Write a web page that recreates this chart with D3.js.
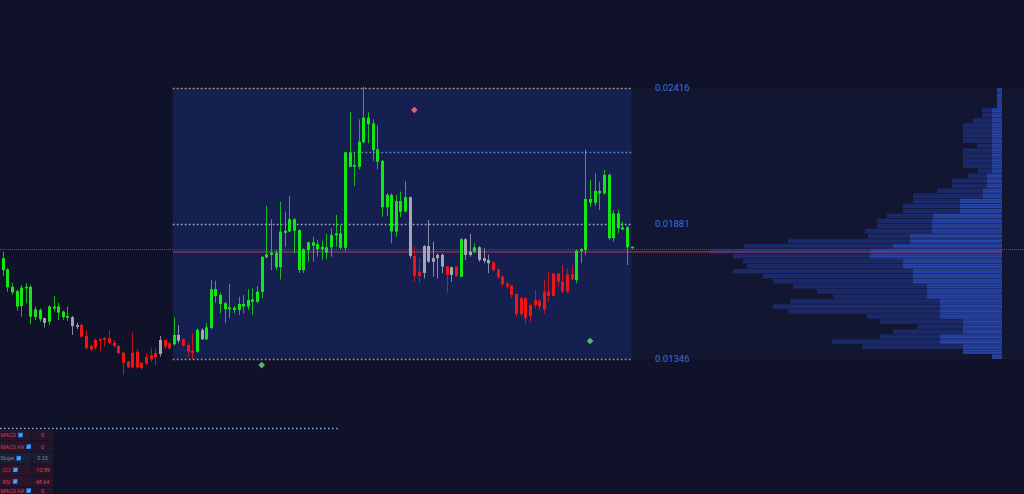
<!DOCTYPE html>
<html><head><meta charset="utf-8">
<script src="https://cdn.jsdelivr.net/npm/d3@7"></script>
<style>html,body{margin:0;padding:0;background:#10122a;overflow:hidden}</style>
</head><body>
<svg id="chart" width="1024" height="494"></svg>
<script>
// ---- candle data (price) ----
const candleOpen = [0.01744,0.01700,0.01631,0.01614,0.01555,0.01625,0.01631,0.01511,0.01540,0.01507,0.01493,0.01545,0.01553,0.01533,0.01509,0.01511,0.01473,0.01480,0.01437,0.01397,0.01421,0.01424,0.01428,0.01428,0.01410,0.01397,0.01371,0.01335,0.01371,0.01375,0.01331,0.01353,0.01361,0.01369,0.01366,0.01421,0.01408,0.01404,0.01441,0.01424,0.01401,0.01379,0.01375,0.01461,0.01424,0.01469,0.01622,0.01599,0.01566,0.01542,0.01548,0.01540,0.01563,0.01553,0.01572,0.01572,0.01611,0.01747,0.01757,0.01766,0.01708,0.01844,0.01849,0.01898,0.01855,0.01697,0.01776,0.01807,0.01800,0.01779,0.01766,0.01787,0.01834,0.01842,0.01785,0.02162,0.02105,0.02105,0.02202,0.02299,0.02276,0.02174,0.02128,0.01945,0.01994,0.01849,0.01970,0.01928,0.01985,0.01753,0.01691,0.01686,0.01792,0.01730,0.01744,0.01757,0.01711,0.01678,0.01711,0.01671,0.01819,0.01757,0.01770,0.01787,0.01744,0.01737,0.01728,0.01700,0.01671,0.01645,0.01635,0.01603,0.01586,0.01586,0.01559,0.01579,0.01576,0.01612,0.01612,0.01684,0.01684,0.01651,0.01680,0.01680,0.01658,0.01772,0.01776,0.01978,0.01963,0.02010,0.02000,0.02073,0.01823,0.01921,0.01858,0.01866,0.01784];
const candleHigh = [0.01770,0.01704,0.01647,0.01621,0.01638,0.01645,0.01638,0.01553,0.01546,0.01509,0.01559,0.01595,0.01568,0.01537,0.01553,0.01516,0.01489,0.01487,0.01458,0.01405,0.01428,0.01428,0.01434,0.01460,0.01421,0.01401,0.01375,0.01339,0.01450,0.01384,0.01335,0.01369,0.01388,0.01388,0.01437,0.01424,0.01414,0.01509,0.01480,0.01428,0.01408,0.01447,0.01467,0.01467,0.01489,0.01658,0.01655,0.01608,0.01572,0.01642,0.01555,0.01592,0.01599,0.01621,0.01625,0.01634,0.01750,0.01950,0.01898,0.01776,0.01967,0.01928,0.01990,0.01902,0.01858,0.01783,0.01809,0.01829,0.01816,0.01813,0.01840,0.01862,0.01915,0.01875,0.02164,0.02320,0.02162,0.02292,0.02421,0.02320,0.02292,0.02267,0.02132,0.02000,0.02000,0.01994,0.02007,0.02049,0.01987,0.01789,0.01744,0.01796,0.01895,0.01809,0.01763,0.01763,0.01713,0.01711,0.01713,0.01823,0.01823,0.01840,0.01803,0.01792,0.01783,0.01757,0.01730,0.01704,0.01678,0.01647,0.01638,0.01605,0.01592,0.01590,0.01566,0.01618,0.01582,0.01658,0.01691,0.01686,0.01686,0.01717,0.01704,0.01717,0.01776,0.01783,0.02174,0.02053,0.02079,0.02046,0.02092,0.02079,0.01934,0.01934,0.01888,0.01871,0.01790];
const candleLow = [0.01675,0.01612,0.01599,0.01536,0.01513,0.01566,0.01483,0.01500,0.01493,0.01470,0.01480,0.01533,0.01500,0.01500,0.01496,0.01441,0.01463,0.01432,0.01384,0.01378,0.01381,0.01375,0.01395,0.01405,0.01392,0.01366,0.01283,0.01309,0.01309,0.01309,0.01305,0.01322,0.01335,0.01322,0.01355,0.01384,0.01381,0.01399,0.01408,0.01395,0.01355,0.01345,0.01371,0.01421,0.01421,0.01463,0.01568,0.01526,0.01487,0.01507,0.01526,0.01520,0.01526,0.01540,0.01520,0.01566,0.01586,0.01744,0.01697,0.01697,0.01660,0.01789,0.01849,0.01763,0.01686,0.01686,0.01730,0.01730,0.01750,0.01737,0.01740,0.01750,0.01789,0.01779,0.01774,0.02103,0.02029,0.02095,0.02198,0.02198,0.02128,0.02095,0.01908,0.01911,0.01803,0.01829,0.01906,0.01924,0.01744,0.01651,0.01647,0.01664,0.01726,0.01671,0.01664,0.01685,0.01608,0.01651,0.01671,0.01669,0.01737,0.01750,0.01763,0.01730,0.01724,0.01685,0.01691,0.01664,0.01632,0.01625,0.01586,0.01513,0.01516,0.01484,0.01493,0.01546,0.01540,0.01526,0.01572,0.01592,0.01632,0.01605,0.01605,0.01658,0.01645,0.01724,0.01757,0.01948,0.01950,0.01934,0.01994,0.01816,0.01809,0.01842,0.01855,0.01717,0.01782];
const candleClose = [0.01697,0.01629,0.01609,0.01553,0.01628,0.01631,0.01513,0.01542,0.01503,0.01489,0.01553,0.01553,0.01529,0.01511,0.01516,0.01476,0.01480,0.01434,0.01388,0.01384,0.01392,0.01418,0.01421,0.01410,0.01397,0.01369,0.01331,0.01313,0.01313,0.01313,0.01310,0.01329,0.01345,0.01353,0.01421,0.01395,0.01388,0.01441,0.01418,0.01399,0.01375,0.01371,0.01461,0.01424,0.01471,0.01622,0.01595,0.01563,0.01542,0.01550,0.01540,0.01563,0.01553,0.01579,0.01582,0.01612,0.01750,0.01759,0.01766,0.01708,0.01849,0.01852,0.01898,0.01852,0.01697,0.01779,0.01807,0.01793,0.01780,0.01789,0.01787,0.01836,0.01842,0.01785,0.02162,0.02105,0.02112,0.02204,0.02299,0.02273,0.02171,0.02125,0.01945,0.01994,0.01849,0.01970,0.01928,0.01985,0.01753,0.01674,0.01674,0.01792,0.01730,0.01744,0.01757,0.01711,0.01678,0.01708,0.01674,0.01819,0.01757,0.01770,0.01787,0.01737,0.01733,0.01724,0.01697,0.01669,0.01642,0.01632,0.01599,0.01524,0.01524,0.01507,0.01516,0.01559,0.01553,0.01542,0.01595,0.01595,0.01651,0.01612,0.01612,0.01661,0.01774,0.01780,0.01978,0.01963,0.02010,0.02000,0.02073,0.01823,0.01921,0.01862,0.01866,0.01787,0.01789];
// g = trend up, r = trend down, n = neutral (10 candles per chunk)
const candleTone = ["gggggggggn","gggggnnrrr","rrrrrrrrrr","rrrrnrrgnr","rrgngggggg",
  "gggggggggg","gggggggggg","gggggggggg","ggggggggnr","rnnnnnrnrg",
  "nngnnnrrrr","rrrrrrrrrr","rrrrgggggg","ggggggg"].join("");

// ---- levels / markers ----
const rangeHigh = 0.02416, rangeMid = 0.01881, rangeLow = 0.01346;
const rangeStartIdx = 37, rangeEndIdx = 136;
const pivotLevel = 0.02162, pivotStartIdx = 75;
const lastPrice = 0.01779;
const pocPrice = 0.01769;
const priceLabels = ["0.02416", "0.01881", "0.01346"];
const signalIdx = [89, 56, 127];
const signalPrice = [0.02329, 0.01322, 0.01417];
const signalType = ["sell", "buy", "buy"];

// ---- volume profile (54 bins, top to bottom) ----
const profileTotal = [5,5,5,5,20,20,29,39,39,39,39,25,39,39,39,39,24,34,50,50,65,89,89,99,99,115,125,125,137,134,214,258,292,269,259,255,269,239,229,209,185,169,212,229,214,135,122,85,109,122,170,140,39,10];
const profileUp = [5,5,5,5,10,10,10,10,10,10,10,10,10,10,10,10,10,15,15,15,19,19,42,42,42,69,70,70,70,92,92,109,132,132,99,99,89,89,89,75,75,75,62,62,62,62,39,39,39,62,62,39,39,10];

// ---- indicator table ----
const tableLabels = ["MACD", "MACD AR", "Slope", "CCI", "RSI", "MACD AR"];
const tableValues = ["0", "0", "0.33", "-13.89", "48.64", "0"];
const tableTones = ["bear", "bear", "flat", "bear", "bear", "bear"];

const svg = d3.select("#chart");
const W = 1024, H = 494;
const N = candleOpen.length;
const x = d3.scaleLinear().domain([0, N - 1]).range([2.7, 631.7]);
const y = d3.scaleLinear().domain([rangeLow, rangeHigh]).range([359, 88]);
const toneColor = {g: "#14e614", r: "#ee1515", n: "#a4a6b4"};

svg.append("rect").attr("width", W).attr("height", H).attr("fill", "#10122a");

// right panel background
svg.append("rect").attr("x", x(rangeEndIdx)).attr("y", y(rangeHigh))
  .attr("width", W - x(rangeEndIdx)).attr("height", y(rangeLow) - y(rangeHigh)).attr("fill", "#121631");
// range box
svg.append("rect").attr("x", x(rangeStartIdx) - 1).attr("y", y(rangeHigh))
  .attr("width", x(rangeEndIdx) - x(rangeStartIdx) + 1).attr("height", y(rangeLow) - y(rangeHigh))
  .attr("fill", "#162050");

// volume profile
const binCount = profileTotal.length;
const bins = d3.range(binCount);
const yb = d3.scaleBand().domain(bins).range([y(rangeHigh), y(rangeLow)]).paddingInner(0.1);
const vx = d3.scaleLinear().domain([0, 300]).range([0, 300]);
const profileRight = 1002;
svg.append("g").selectAll("rect").data(bins).join("rect")
  .attr("x", i => profileRight - vx(profileTotal[i])).attr("y", i => yb(i))
  .attr("width", i => vx(profileTotal[i])).attr("height", yb.bandwidth()).attr("fill", "#1c2b6e");
svg.append("g").selectAll("rect").data(bins).join("rect")
  .attr("x", i => profileRight - vx(profileUp[i])).attr("y", i => yb(i))
  .attr("width", i => vx(profileUp[i])).attr("height", yb.bandwidth()).attr("fill", "#2744a6");
// stripe texture
const defs = svg.append("defs");
const pat = defs.append("pattern").attr("id", "stripes").attr("patternUnits", "userSpaceOnUse")
  .attr("width", 4).attr("height", 2.6);
pat.append("rect").attr("width", 4).attr("height", 0.6).attr("fill", "#10132c").attr("opacity", 0.45);
svg.append("rect").attr("x", 700).attr("y", y(rangeHigh)).attr("width", profileRight - 700)
  .attr("height", y(rangeLow) - y(rangeHigh)).attr("fill", "url(#stripes)");

// dotted levels
function hline(p, x1, x2, color, dash, w) {
  svg.append("line").attr("x1", x1).attr("x2", x2).attr("y1", Math.round(y(p)) + 0.5).attr("y2", Math.round(y(p)) + 0.5)
    .attr("stroke", color).attr("stroke-width", w || 1.5).attr("stroke-dasharray", dash);
}
hline(rangeHigh, x(rangeStartIdx) - 1, x(rangeEndIdx), "#c9a646", "1.6 2.4");
hline(rangeLow, x(rangeStartIdx) - 1, x(rangeEndIdx), "#c9a646", "1.6 2.4");
hline(rangeMid, x(rangeStartIdx) - 1, x(rangeEndIdx), "#aab0d0", "1.6 2.4");
hline(pivotLevel, x(pivotStartIdx), x(rangeEndIdx), "#5b8ee0", "1.6 2.4");
hline(lastPrice, 0, W, "#1f7a36", "1 1", 1);
svg.append("line").attr("x1", x(rangeStartIdx) - 1).attr("x2", profileRight)
  .attr("y1", y(pocPrice)).attr("y2", y(pocPrice)).attr("stroke", "#b02c4a").attr("stroke-width", 1.2);

// candles
const cg = svg.append("g");
const idx = d3.range(N);
cg.selectAll("line").data(idx).join("line")
  .attr("x1", i => Math.round(x(i)) + 0.5).attr("x2", i => Math.round(x(i)) + 0.5)
  .attr("y1", i => y(candleHigh[i])).attr("y2", i => y(candleLow[i]))
  .attr("stroke", i => toneColor[candleTone[i]]).attr("stroke-width", 1).attr("opacity", 0.8);
cg.selectAll("rect").data(idx).join("rect")
  .attr("x", i => Math.round(x(i)) - 1).attr("width", 3)
  .attr("y", i => y(Math.max(candleOpen[i], candleClose[i])))
  .attr("height", i => Math.max(1.5, Math.abs(y(candleOpen[i]) - y(candleClose[i]))))
  .attr("fill", i => toneColor[candleTone[i]]);

// signals (rotated squares)
svg.append("g").selectAll("path").data(signalIdx.map((d, k) => k)).join("path")
  .attr("d", d3.symbol(d3.symbolSquare, 22))
  .attr("transform", k => `translate(${x(signalIdx[k])},${y(signalPrice[k])}) rotate(45)`)
  .attr("fill", k => signalType[k] === "sell" ? "#e0647a" : "#58b870");

// price labels
svg.append("g").selectAll("text").data([rangeHigh, rangeMid, rangeLow]).join("text")
  .attr("x", 655).attr("y", d => y(d)).attr("dy", "0.35em")
  .attr("fill", "#3d6fdc").attr("font-family", "Roboto, 'Open Sans', sans-serif").attr("font-size", 9.5)
  .text((d, i) => priceLabels[i]);

// bottom pane border
svg.append("line").attr("x1", 0).attr("x2", 340).attr("y1", 428.5).attr("y2", 428.5)
  .attr("stroke", "#7aa2d8").attr("stroke-width", 1.5).attr("stroke-dasharray", "1.6 2.4");

// indicator table
const rowH = 11.6, tTop = 429.6, labelCx = 10, valX0 = 32, valX1 = 53;
const tg = svg.append("g").attr("font-family", "Roboto, 'Open Sans', sans-serif").attr("font-size", 5.4);
tableLabels.forEach((lab, r) => {
  const ry = tTop + r * rowH;
  const bear = tableTones[r] === "bear";
  const cy = Math.min(ry + rowH / 2, H - 3);
  tg.append("rect").attr("x", 0).attr("y", ry).attr("width", valX0 - 0.5).attr("height", rowH - 0.8)
    .attr("fill", bear ? "#2a1429" : "#1d1f33");
  tg.append("rect").attr("x", valX0 + 0.5).attr("y", ry).attr("width", valX1 - valX0 - 0.5).attr("height", rowH - 0.8)
    .attr("fill", bear ? "#261428" : "#1b1d31");
  const t = tg.append("text").attr("y", cy).attr("dy", "0.35em")
    .attr("fill", bear ? "#d83a4e" : "#7d8296").text(lab);
  const tw = t.node().getComputedTextLength();
  const iconW = 4.6, gap = 2.4;
  const start = Math.max(0.5, labelCx - (tw + gap + iconW) / 2);
  t.attr("x", start);
  const ix = start + tw + gap;
  tg.append("rect").attr("x", ix).attr("y", cy - iconW / 2 - 0.4).attr("width", iconW).attr("height", iconW)
    .attr("fill", "#1e8ef0");
  tg.append("path").attr("d", `M${ix + 1},${cy + 1.4} L${ix + 3.6},${cy - 1.6}`)
    .attr("stroke", "#cfe6ff").attr("stroke-width", 0.7);
  tg.append("text").attr("x", (valX0 + valX1) / 2).attr("y", cy).attr("dy", "0.35em")
    .attr("text-anchor", "middle").attr("fill", bear ? "#d84a5a" : "#7d8296").text(tableValues[r]);
});
</script>
</body></html>
